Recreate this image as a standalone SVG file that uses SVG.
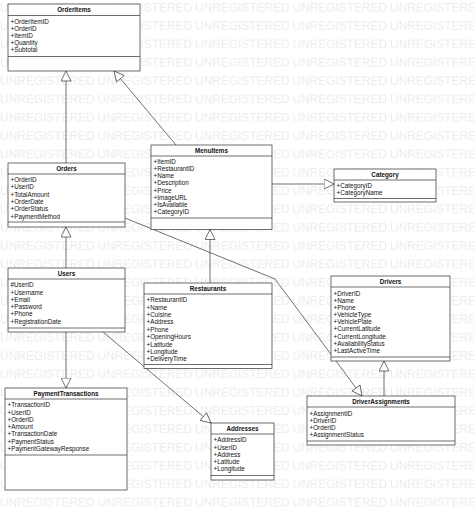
<svg xmlns="http://www.w3.org/2000/svg" width="474" height="512" viewBox="0 0 474 512">
<style>
.box{fill:#fff;stroke:#4a4a4a;stroke-width:0.8}
.sep{stroke:#4a4a4a;stroke-width:0.8}
.t{font-family:"Liberation Sans",Arial,sans-serif;font-size:6.3px;fill:#111}
.h{font-family:"Liberation Sans",Arial,sans-serif;font-size:6.3px;font-weight:bold;fill:#111;text-anchor:middle}
.c{fill:none;stroke:#333;stroke-width:0.7;marker-end:url(#tri)}
.wm{font-family:"Liberation Sans",Arial,sans-serif;font-size:13px;fill:#ebebeb}
</style>
<defs>
<pattern id="wmp" patternUnits="userSpaceOnUse" x="0" y="0" width="97.5" height="18.33">
<text class="wm" x="0" y="11.2" textLength="94.6" lengthAdjust="spacingAndGlyphs">UNREGISTERED</text>
</pattern>
<marker id="tri" markerUnits="userSpaceOnUse" markerWidth="11" markerHeight="11" refX="10" refY="5" orient="auto" viewBox="-0.5 -0.5 11 11">
<path d="M0,0 L10,5 L0,10 Z" fill="#fff" stroke="#333" stroke-width="0.7"/>
</marker>
</defs>
<rect width="474" height="512" fill="#fff"/>
<rect id="watermark" width="474" height="512" fill="url(#wmp)"/>

<g id="connectors">
<path class="c" d="M66,163 L66,71"/>
<path class="c" d="M176,145 L114,71"/>
<path class="c" d="M272,184 L334,184"/>
<path class="c" d="M66,268 L66,227"/>
<path class="c" d="M66,332 L66,388"/>
<path class="c" d="M103,332 L211,423"/>
<path class="c" d="M210,283 L210,229.5"/>
<path class="c" d="M125,218 L275,279 L362,396"/>
<path class="c" d="M384,396 L384,361"/>
</g>

<g id="OrderItems">
<rect class="box" x="8" y="4" width="132" height="67"/>
<line class="sep" x1="8" y1="15.5" x2="140" y2="15.5"/>
<line class="sep" x1="8" y1="56.5" x2="140" y2="56.5"/>
<text class="h" x="74" y="12">OrderItems</text>
<text class="t" x="10.5" y="23.5">+OrderItemID</text>
<text class="t" x="10.5" y="30.6">+OrderID</text>
<text class="t" x="10.5" y="37.7">+ItemID</text>
<text class="t" x="10.5" y="44.8">+Quantity</text>
<text class="t" x="10.5" y="51.9">+Subtotal</text>
</g>

<g id="Orders">
<rect class="box" x="8" y="163" width="117" height="64"/>
<line class="sep" x1="8" y1="174" x2="125" y2="174"/>
<line class="sep" x1="8" y1="222" x2="125" y2="222"/>
<text class="h" x="66.5" y="171">Orders</text>
<text class="t" x="10.5" y="182">+OrderID</text>
<text class="t" x="10.5" y="189.3">+UserID</text>
<text class="t" x="10.5" y="196.6">+TotalAmount</text>
<text class="t" x="10.5" y="203.9">+OrderDate</text>
<text class="t" x="10.5" y="211.2">+OrderStatus</text>
<text class="t" x="10.5" y="218.5">+PaymentMethod</text>
</g>

<g id="MenuItems">
<rect class="box" x="151" y="145" width="121" height="84.5"/>
<line class="sep" x1="151" y1="156" x2="272" y2="156"/>
<line class="sep" x1="151" y1="218" x2="272" y2="218"/>
<text class="h" x="211.5" y="153">MenuItems</text>
<text class="t" x="153.5" y="164">+ItemID</text>
<text class="t" x="153.5" y="171.15">+RestaurantID</text>
<text class="t" x="153.5" y="178.3">+Name</text>
<text class="t" x="153.5" y="185.45">+Description</text>
<text class="t" x="153.5" y="192.6">+Price</text>
<text class="t" x="153.5" y="199.75">+ImageURL</text>
<text class="t" x="153.5" y="206.9">+IsAvailable</text>
<text class="t" x="153.5" y="214.05">+CategoryID</text>
</g>

<g id="Category">
<rect class="box" x="334" y="169" width="102" height="33"/>
<line class="sep" x1="334" y1="180" x2="436" y2="180"/>
<line class="sep" x1="334" y1="198.5" x2="436" y2="198.5"/>
<text class="h" x="385" y="177">Category</text>
<text class="t" x="336.5" y="187.5">+CategoryID</text>
<text class="t" x="336.5" y="194.8">+CategoryName</text>
</g>

<g id="Users">
<rect class="box" x="8" y="268" width="117" height="64"/>
<line class="sep" x1="8" y1="279" x2="125" y2="279"/>
<line class="sep" x1="8" y1="328" x2="125" y2="328"/>
<text class="h" x="66.5" y="276">Users</text>
<text class="t" x="10.5" y="287.2">#UserID</text>
<text class="t" x="10.5" y="294.5">+Username</text>
<text class="t" x="10.5" y="301.8">+Email</text>
<text class="t" x="10.5" y="309.1">+Password</text>
<text class="t" x="10.5" y="316.4">+Phone</text>
<text class="t" x="10.5" y="323.7">+RegistrationDate</text>
</g>

<g id="Restaurants">
<rect class="box" x="144" y="283" width="128" height="85.5"/>
<line class="sep" x1="144" y1="294" x2="272" y2="294"/>
<line class="sep" x1="144" y1="364.5" x2="272" y2="364.5"/>
<text class="h" x="208" y="291">Restaurants</text>
<text class="t" x="146.5" y="302.2">+RestaurantID</text>
<text class="t" x="146.5" y="309.6">+Name</text>
<text class="t" x="146.5" y="317">+Cuisine</text>
<text class="t" x="146.5" y="324.4">+Address</text>
<text class="t" x="146.5" y="331.8">+Phone</text>
<text class="t" x="146.5" y="339.2">+OpeningHours</text>
<text class="t" x="146.5" y="346.6">+Latitude</text>
<text class="t" x="146.5" y="354">+Longitude</text>
<text class="t" x="146.5" y="361.4">+DeliveryTime</text>
</g>

<g id="Drivers">
<rect class="box" x="331" y="276" width="119" height="85"/>
<line class="sep" x1="331" y1="287" x2="450" y2="287"/>
<line class="sep" x1="331" y1="357" x2="450" y2="357"/>
<text class="h" x="390.5" y="284">Drivers</text>
<text class="t" x="333.5" y="295.5">+DriverID</text>
<text class="t" x="333.5" y="302.7">+Name</text>
<text class="t" x="333.5" y="309.8">+Phone</text>
<text class="t" x="333.5" y="317">+VehicleType</text>
<text class="t" x="333.5" y="324.2">+VehiclePlate</text>
<text class="t" x="333.5" y="331.3">+CurrentLatitude</text>
<text class="t" x="333.5" y="338.5">+CurrentLongitude</text>
<text class="t" x="333.5" y="345.7">+AvailabilityStatus</text>
<text class="t" x="333.5" y="352.9">+LastActiveTime</text>
</g>

<g id="DriverAssignments">
<rect class="box" x="307" y="396" width="148" height="49"/>
<line class="sep" x1="307" y1="407" x2="455" y2="407"/>
<line class="sep" x1="307" y1="441" x2="455" y2="441"/>
<text class="h" x="381" y="404">DriverAssignments</text>
<text class="t" x="309.5" y="415.5">+AssignmentID</text>
<text class="t" x="309.5" y="422.7">+DriverID</text>
<text class="t" x="309.5" y="429.9">+OrderID</text>
<text class="t" x="309.5" y="437.1">+AssignmentStatus</text>
</g>

<g id="PaymentTransactions">
<rect class="box" x="5" y="388" width="122" height="102"/>
<line class="sep" x1="5" y1="399" x2="127" y2="399"/>
<line class="sep" x1="5" y1="455" x2="127" y2="455"/>
<text class="h" x="66" y="396">PaymentTransactions</text>
<text class="t" x="7.5" y="407.2">+TransactionID</text>
<text class="t" x="7.5" y="414.5">+UserID</text>
<text class="t" x="7.5" y="421.8">+OrderID</text>
<text class="t" x="7.5" y="429.1">+Amount</text>
<text class="t" x="7.5" y="436.4">+TransactionDate</text>
<text class="t" x="7.5" y="443.7">+PaymentStatus</text>
<text class="t" x="7.5" y="451">+PaymentGatewayResponse</text>
</g>

<g id="Addresses">
<rect class="box" x="211" y="423" width="63" height="57"/>
<line class="sep" x1="211" y1="434" x2="274" y2="434"/>
<line class="sep" x1="211" y1="475.5" x2="274" y2="475.5"/>
<text class="h" x="242.5" y="431">Addresses</text>
<text class="t" x="213.5" y="442.2">+AddressID</text>
<text class="t" x="213.5" y="449.5">+UserID</text>
<text class="t" x="213.5" y="456.8">+Address</text>
<text class="t" x="213.5" y="464.1">+Latitude</text>
<text class="t" x="213.5" y="471.4">+Longitude</text>
</g>
</svg>
